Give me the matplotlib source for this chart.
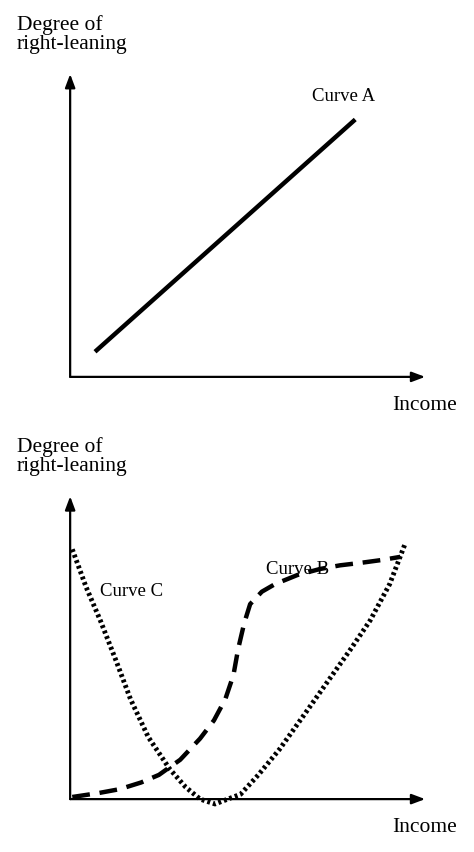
import matplotlib
matplotlib.use("Agg")
import matplotlib.pyplot as plt

plt.rcParams['font.family'] = ['Liberation Serif', 'DejaVu Serif']

# curve A (top panel)
a_x = [0.7, 8.03]
a_y = [0.83, 8.5]

# curve C (dotted), curve B (dashed) in bottom panel
c_x = [0.06, 0.45, 0.85, 1.3, 1.7, 2.2, 2.8, 3.25, 3.66, 4.08, 4.8, 5.3, 5.9, 6.6, 7.3, 7.9, 8.45, 9.0, 9.44]
c_y = [8.25, 7.0, 5.9, 4.55, 3.3, 2.05, 1.0, 0.4, 0.0, -0.16, 0.16, 0.8, 1.65, 2.8, 3.96, 4.95, 5.9, 7.1, 8.45]
b_x = [0.06, 0.8, 1.4, 2.0, 2.5, 3.1, 3.66, 4.05, 4.37, 4.6, 4.73, 4.9, 5.07, 5.4, 5.77, 6.4, 7.04, 7.6, 8.17, 8.8, 9.3]
b_y = [0.07, 0.2, 0.33, 0.55, 0.8, 1.3, 2.0, 2.6, 3.3, 4.1, 4.95, 5.8, 6.44, 6.85, 7.1, 7.4, 7.6, 7.72, 7.8, 7.9, 8.0]

fig = plt.figure(figsize=(4.74, 8.53), dpi=100)
fs = 15.5


def panel(rect):
    ax = fig.add_axes(rect)
    ax.set_xlim(0, 10)
    ax.set_ylim(0, 10)
    ax.axis('off')
    ax.clip_on = False
    arrow = dict(arrowstyle='-|>,head_length=0.8,head_width=0.3', color='black', lw=1.6, shrinkA=0, shrinkB=0)
    ax.annotate('', xy=(1.0, 0), xytext=(0, 0), xycoords='axes fraction', arrowprops=arrow)
    ax.annotate('', xy=(0, 1.0), xytext=(0, 0), xycoords='axes fraction', arrowprops=arrow)
    ax.text(-0.15, 1.07, 'Degree of\nright-leaning', transform=ax.transAxes, fontsize=fs,
            ha='left', va='bottom', linespacing=1.0)
    ax.text(1.09, -0.06, 'Income', transform=ax.transAxes, fontsize=fs, ha='right', va='top')
    return ax


top = panel([0.148, 0.557, 0.749, 0.355])
top.plot(a_x, a_y, color='black', lw=3.2, solid_capstyle='butt')
top.text(7.7, 9.3, 'Curve A', fontsize=13.5, ha='center', va='center')

bot = panel([0.148, 0.062, 0.749, 0.355])
bot.plot(c_x, c_y, color='black', lw=3.5, linestyle=(0, (0.6, 0.6)), clip_on=False)
bot.plot(b_x, b_y, color='black', lw=3.2, linestyle=(0, (4, 2.2)), clip_on=False)
bot.text(6.4, 7.6, 'Curve B', fontsize=13.5, ha='center', va='center')
bot.text(1.72, 6.9, 'Curve C', fontsize=13.5, ha='center', va='center')

fig.savefig('out.png', dpi=100)
